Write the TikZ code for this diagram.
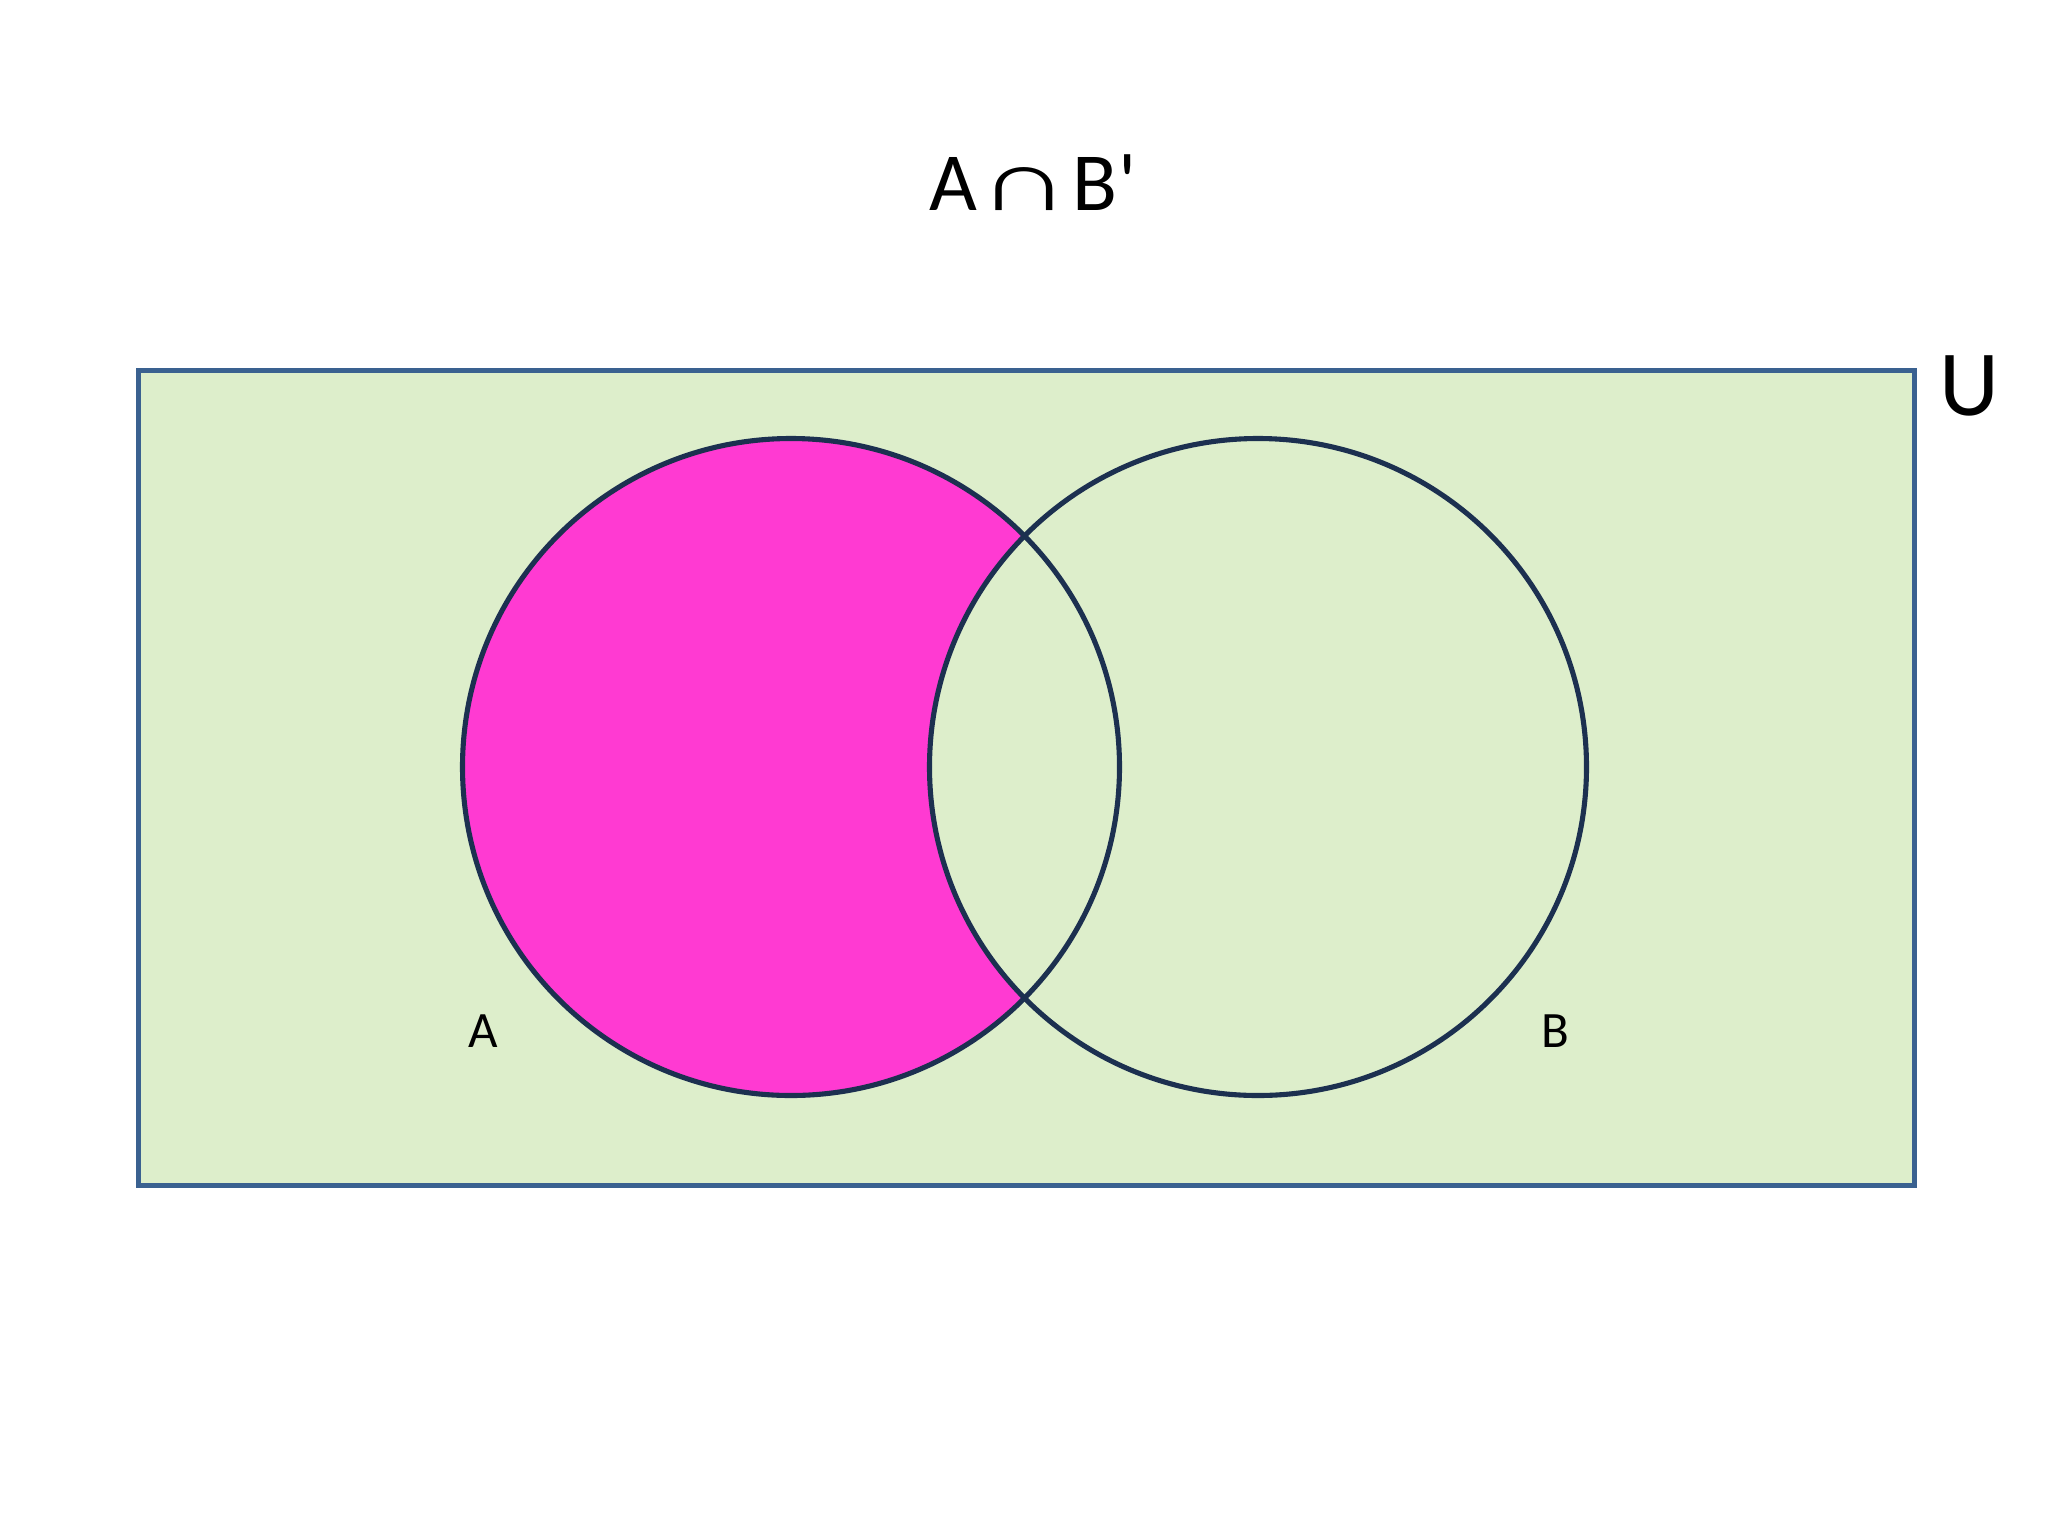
\documentclass[tikz,border=0pt]{standalone}
\usepackage{fontspec}
\setmainfont{Carlito}
\newfontfamily\symfont{Liberation Sans}
\definecolor{ugreen}{HTML}{DDEECB}
\definecolor{ublue}{HTML}{3A6190}
\definecolor{cnavy}{HTML}{1C3050}
\definecolor{amag}{HTML}{FF3AD2}
\begin{document}
\begin{tikzpicture}[x=0.01cm,y=-0.01cm,
  setline/.style={draw=cnavy,line width=1.45pt},
  lbl/.style={inner sep=0pt,anchor=base}]
\useasboundingbox (0,0) rectangle (2048,1536);
\fill[white] (0,0) rectangle (2048,1536);
% universe
\node[draw=ublue,fill=ugreen,line width=1.45pt,minimum width=1776*0.01cm,minimum height=815*0.01cm,inner sep=0pt,anchor=north west] (U) at (136,368) {};
% circles
\coordinate (ca) at (791,767);
\coordinate (cb) at (1258,767);
\fill[amag] (ca) circle[radius=328.5*0.01cm];
\fill[ugreen] (cb) circle[radius=328.5*0.01cm];
\node[setline,circle,minimum size=657*0.01cm,inner sep=0pt] (A) at (ca) {};
\node[setline,circle,minimum size=657*0.01cm,inner sep=0pt] (B) at (cb) {};
% labels
\node[lbl] (Ulbl) at (1969,415) {\fontsize{26.5pt}{30pt}\selectfont U};
\node[lbl] (Albl) at (483,1047) {\fontsize{14.5pt}{17pt}\selectfont A};
\node[lbl] (Blbl) at (1555,1047) {\fontsize{14.5pt}{17pt}\selectfont B};
\node[lbl] (title) at (1033,210) {\fontsize{23.5pt}{28pt}\selectfont A\hspace{0.5pt}\scalebox{1.45}[0.97]{\symfont\fontsize{25pt}{28pt}\selectfont ∩}\hspace{0.5pt}B\hspace{0.5pt}\textquotesingle};
\end{tikzpicture}
\end{document}
